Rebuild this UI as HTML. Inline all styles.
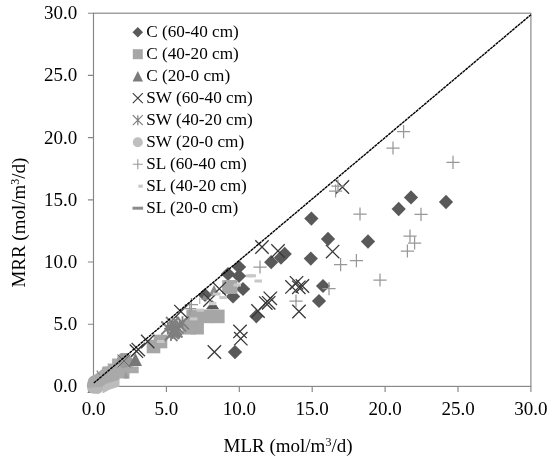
<!DOCTYPE html>
<html lang="en"><head><meta charset="utf-8"><title>MRR vs MLR</title>
<style>html,body{margin:0;padding:0;background:#fff}body{width:550px;height:460px;overflow:hidden}</style>
</head><body>
<svg width="550" height="460" viewBox="0 0 550 460" style="display:block">
<rect width="550" height="460" fill="#fff"/>
<g id="s1"><polygon points="284.7,246.8 291.8,254.0 284.7,261.1 277.6,254.0" fill="#595959"/><polygon points="281.0,250.5 288.1,257.6 281.0,264.8 273.9,257.6" fill="#595959"/><polygon points="271.2,255.0 278.3,262.2 271.2,269.3 264.1,262.2" fill="#595959"/><polygon points="239.0,259.9 246.2,267.0 239.0,274.1 231.8,267.0" fill="#595959"/><polygon points="228.0,266.9 235.2,274.0 228.0,281.1 220.8,274.0" fill="#595959"/><polygon points="239.0,268.9 246.2,276.0 239.0,283.1 231.8,276.0" fill="#595959"/><polygon points="243.0,281.9 250.2,289.0 243.0,296.1 235.8,289.0" fill="#595959"/><polygon points="233.0,289.4 240.2,296.5 233.0,303.6 225.8,296.5" fill="#595959"/><polygon points="256.3,309.2 263.4,316.3 256.3,323.4 249.2,316.3" fill="#595959"/><polygon points="205.0,287.9 212.2,295.0 205.0,302.1 197.8,295.0" fill="#595959"/><polygon points="328.0,231.8 335.1,239.0 328.0,246.2 320.9,239.0" fill="#595959"/><polygon points="368.0,234.3 375.1,241.5 368.0,248.7 360.9,241.5" fill="#595959"/><polygon points="310.8,251.5 317.9,258.6 310.8,265.8 303.7,258.6" fill="#595959"/><polygon points="323.0,278.9 330.1,286.0 323.0,293.1 315.9,286.0" fill="#595959"/><polygon points="319.0,293.9 326.1,301.0 319.0,308.1 311.9,301.0" fill="#595959"/><polygon points="311.4,211.4 318.5,218.6 311.4,225.8 304.2,218.6" fill="#595959"/><polygon points="398.7,201.8 405.8,209.0 398.7,216.2 391.6,209.0" fill="#595959"/><polygon points="411.0,190.2 418.1,197.4 411.0,204.6 403.9,197.4" fill="#595959"/><polygon points="446.0,194.8 453.1,202.0 446.0,209.2 438.9,202.0" fill="#595959"/><polygon points="235.0,345.0 242.2,352.1 235.0,359.2 227.8,352.1" fill="#595959"/></g>
<g id="s2"><rect x="222.2" y="280.2" width="13.6" height="13.6" fill="#a6a6a6"/><rect x="223.8" y="280.2" width="13.6" height="13.6" fill="#a6a6a6"/><rect x="211.0" y="309.6" width="13.6" height="13.6" fill="#a6a6a6"/><rect x="198.7" y="309.6" width="13.6" height="13.6" fill="#a6a6a6"/><rect x="186.4" y="309.6" width="13.6" height="13.6" fill="#a6a6a6"/><rect x="190.3" y="320.9" width="13.6" height="13.6" fill="#a6a6a6"/><rect x="182.6" y="320.9" width="13.6" height="13.6" fill="#a6a6a6"/><rect x="146.7" y="339.7" width="13.6" height="13.6" fill="#a6a6a6"/><rect x="153.7" y="334.7" width="13.6" height="13.6" fill="#a6a6a6"/></g>
<g id="s3"><polygon points="205.0,292.9 208.6,300.1 201.4,300.1" fill="#8c8c8c"/><polygon points="214.0,285.0 218.5,294.0 209.5,294.0" fill="#8c8c8c"/></g>
<g id="s5"><path d="M161.3 321.5L174.3 334.5M161.3 334.5L174.3 321.5M167.8 321.5L167.8 334.5" stroke="#7f7f7f" stroke-width="1.8" fill="none"/><path d="M166.0 326.0L179.0 339.0M166.0 339.0L179.0 326.0M172.5 326.0L172.5 339.0" stroke="#7f7f7f" stroke-width="1.8" fill="none"/><path d="M167.5 324.0L180.5 337.0M167.5 337.0L180.5 324.0M174.0 324.0L174.0 337.0" stroke="#7f7f7f" stroke-width="1.8" fill="none"/><path d="M169.0 322.0L182.0 335.0M169.0 335.0L182.0 322.0M175.5 322.0L175.5 335.0" stroke="#7f7f7f" stroke-width="1.8" fill="none"/><path d="M170.5 320.5L183.5 333.5M170.5 333.5L183.5 320.5M177.0 320.5L177.0 333.5" stroke="#7f7f7f" stroke-width="1.8" fill="none"/><path d="M173.0 318.5L186.0 331.5M173.0 331.5L186.0 318.5M179.5 318.5L179.5 331.5" stroke="#7f7f7f" stroke-width="1.8" fill="none"/><path d="M176.0 316.3L189.0 329.3M176.0 329.3L189.0 316.3M182.5 316.3L182.5 329.3" stroke="#7f7f7f" stroke-width="1.8" fill="none"/><path d="M164.5 328.0L177.5 341.0M164.5 341.0L177.5 328.0M171.0 328.0L171.0 341.0" stroke="#7f7f7f" stroke-width="1.8" fill="none"/><path d="M167.0 325.0L180.0 338.0M167.0 338.0L180.0 325.0M173.5 325.0L173.5 338.0" stroke="#7f7f7f" stroke-width="1.8" fill="none"/><path d="M166.0 317.0L179.0 330.0M166.0 330.0L179.0 317.0M172.5 317.0L172.5 330.0" stroke="#7f7f7f" stroke-width="1.8" fill="none"/><path d="M169.5 324.5L182.5 337.5M169.5 337.5L182.5 324.5M176.0 324.5L176.0 337.5" stroke="#7f7f7f" stroke-width="1.8" fill="none"/></g>
<g id="s4"><path d="M255.3 240.3L268.7 253.7M255.3 253.7L268.7 240.3" stroke="#383838" stroke-width="1.3" fill="none"/><path d="M271.3 244.3L284.7 257.7M271.3 257.7L284.7 244.3" stroke="#383838" stroke-width="1.3" fill="none"/><path d="M263.6 291.6L277.0 305.0M263.6 305.0L277.0 291.6" stroke="#383838" stroke-width="1.3" fill="none"/><path d="M262.0 296.1L275.4 309.5M262.0 309.5L275.4 296.1" stroke="#383838" stroke-width="1.3" fill="none"/><path d="M259.1 296.4L272.5 309.8M259.1 309.8L272.5 296.4" stroke="#383838" stroke-width="1.3" fill="none"/><path d="M289.8 276.1L303.2 289.5M289.8 289.5L303.2 276.1" stroke="#383838" stroke-width="1.3" fill="none"/><path d="M285.3 280.2L298.7 293.6M285.3 293.6L298.7 280.2" stroke="#383838" stroke-width="1.3" fill="none"/><path d="M292.1 280.6L305.5 294.0M292.1 294.0L305.5 280.6" stroke="#383838" stroke-width="1.3" fill="none"/><path d="M295.7 279.3L309.1 292.7M295.7 292.7L309.1 279.3" stroke="#383838" stroke-width="1.3" fill="none"/><path d="M233.3 324.7L246.7 338.1M233.3 338.1L246.7 324.7" stroke="#383838" stroke-width="1.3" fill="none"/><path d="M234.1 332.0L247.5 345.4M234.1 345.4L247.5 332.0" stroke="#383838" stroke-width="1.3" fill="none"/><path d="M292.3 304.8L305.7 318.2M292.3 318.2L305.7 304.8" stroke="#383838" stroke-width="1.3" fill="none"/><path d="M203.3 293.3L216.7 306.7M203.3 306.7L216.7 293.3" stroke="#383838" stroke-width="1.3" fill="none"/><path d="M212.6 282.1L226.0 295.5M212.6 295.5L226.0 282.1" stroke="#383838" stroke-width="1.3" fill="none"/><path d="M325.9 244.9L339.3 258.3M325.9 258.3L339.3 244.9" stroke="#383838" stroke-width="1.3" fill="none"/><path d="M335.7 180.3L349.1 193.7M335.7 193.7L349.1 180.3" stroke="#383838" stroke-width="1.3" fill="none"/><path d="M207.7 345.3L221.1 358.7M207.7 358.7L221.1 345.3" stroke="#383838" stroke-width="1.3" fill="none"/><path d="M251.3 304.3L264.7 317.7M251.3 317.7L264.7 304.3" stroke="#383838" stroke-width="1.3" fill="none"/><path d="M174.2 304.9L187.6 318.3M174.2 318.3L187.6 304.9" stroke="#383838" stroke-width="1.3" fill="none"/><path d="M141.0 334.8L154.4 348.2M141.0 348.2L154.4 334.8" stroke="#383838" stroke-width="1.3" fill="none"/><path d="M129.7 344.5L143.1 357.9M129.7 357.9L143.1 344.5" stroke="#383838" stroke-width="1.3" fill="none"/><path d="M131.6 342.9L145.0 356.3M131.6 356.3L145.0 342.9" stroke="#383838" stroke-width="1.3" fill="none"/></g>
<g id="s6"></g>
<g id="s7"><path d="M253.4 267.0L266.6 267.0M260.0 260.4L260.0 273.6" stroke="#989898" stroke-width="1.25" fill="none"/><path d="M289.4 301.0L302.6 301.0M296.0 294.4L296.0 307.6" stroke="#989898" stroke-width="1.25" fill="none"/><path d="M184.8 304.6L198.0 304.6M191.4 298.0L191.4 311.2" stroke="#989898" stroke-width="1.25" fill="none"/><path d="M183.2 308.6L196.4 308.6M189.8 302.0L189.8 315.2" stroke="#989898" stroke-width="1.25" fill="none"/><path d="M334.0 264.6L347.2 264.6M340.6 258.0L340.6 271.2" stroke="#989898" stroke-width="1.25" fill="none"/><path d="M349.8 260.6L363.0 260.6M356.4 254.0L356.4 267.2" stroke="#989898" stroke-width="1.25" fill="none"/><path d="M373.4 280.0L386.6 280.0M380.0 273.4L380.0 286.6" stroke="#989898" stroke-width="1.25" fill="none"/><path d="M322.4 288.6L335.6 288.6M329.0 282.0L329.0 295.2" stroke="#989898" stroke-width="1.25" fill="none"/><path d="M329.0 191.0L342.2 191.0M335.6 184.4L335.6 197.6" stroke="#989898" stroke-width="1.25" fill="none"/><path d="M331.4 186.0L344.6 186.0M338.0 179.4L338.0 192.6" stroke="#989898" stroke-width="1.25" fill="none"/><path d="M353.4 214.0L366.6 214.0M360.0 207.4L360.0 220.6" stroke="#989898" stroke-width="1.25" fill="none"/><path d="M386.4 148.0L399.6 148.0M393.0 141.4L393.0 154.6" stroke="#989898" stroke-width="1.25" fill="none"/><path d="M397.0 131.6L410.2 131.6M403.6 125.0L403.6 138.2" stroke="#989898" stroke-width="1.25" fill="none"/><path d="M446.4 162.4L459.6 162.4M453.0 155.8L453.0 169.0" stroke="#989898" stroke-width="1.25" fill="none"/><path d="M414.4 214.4L427.6 214.4M421.0 207.8L421.0 221.0" stroke="#989898" stroke-width="1.25" fill="none"/><path d="M403.4 236.0L416.6 236.0M410.0 229.4L410.0 242.6" stroke="#989898" stroke-width="1.25" fill="none"/><path d="M408.0 243.0L421.2 243.0M414.6 236.4L414.6 249.6" stroke="#989898" stroke-width="1.25" fill="none"/><path d="M400.8 251.0L414.0 251.0M407.4 244.4L407.4 257.6" stroke="#989898" stroke-width="1.25" fill="none"/></g>
<g id="s8"><rect x="246.0" y="274.3" width="7.5" height="3" fill="#c8c8c8"/><rect x="248.5" y="274.3" width="7.5" height="3" fill="#c8c8c8"/><rect x="213.0" y="292.5" width="7.5" height="3" fill="#c8c8c8"/><rect x="254.5" y="279.5" width="7.5" height="3" fill="#c8c8c8"/><rect x="233.5" y="283.5" width="7.5" height="3" fill="#c8c8c8"/><rect x="157.0" y="340.0" width="7.5" height="3" fill="#c8c8c8"/><rect x="196.5" y="308.7" width="7.5" height="3" fill="#c8c8c8"/><rect x="190.0" y="317.4" width="7.5" height="3" fill="#c8c8c8"/><rect x="219.3" y="296.1" width="7.5" height="3" fill="#c8c8c8"/></g>
<g id="s9"></g>
<g id="extra"><path d="M199.7 297.5V304" stroke="#b8b8b8" stroke-width="1.3"/><polygon points="212.6,300.3 219.3,309.2 206,309.2" fill="#585858"/><rect x="209" y="301.8" width="7.4" height="3.4" fill="#cfcfcf"/></g>
<rect x="93.5" y="13.2" width="437.4" height="373.2" fill="none" stroke="#868686" stroke-width="1.15"/>
<path d="M87.9 386.4H93.5M93.5 386.4V392.0M87.9 324.2H93.5M166.4 386.4V392.0M87.9 262.0H93.5M239.3 386.4V392.0M87.9 199.8H93.5M312.2 386.4V392.0M87.9 137.6H93.5M385.1 386.4V392.0M87.9 75.4H93.5M458.0 386.4V392.0M87.9 13.2H93.5M530.9 386.4V392.0" stroke="#868686" stroke-width="1.15" fill="none"/>
<g id="over"><polygon points="93.8,380.0 100.3,393.0 87.3,393.0" fill="#7f7f7f"/><circle cx="93.6" cy="387.2" r="6.6" fill="#b6b6b6"/><circle cx="97.2" cy="387.6" r="6.3" fill="#b6b6b6"/><polygon points="102.5,393.6 102.5,380 119.5,379 119.5,386.4 110,389.5" fill="#bcbcbc"/><polygon points="86.8,387 87,384 88.4,379 90.6,376.4 93.6,375.3 95,374.5 101.7,369.4 102.5,366.5 107.7,366.3 107.7,363.4 112.1,363.4 112.1,358.6 117.3,358.6 117.3,355.6 121,353 128.4,353 131,358 131,366.5 138.7,366.5 138.7,373.3 129.5,373.3 129.5,378.5 119.5,378.5 119.5,379.5 106,383.8 102.5,386.6 90,387.8" fill="#a9a9a9"/><polygon points="117.3,358.6 121,353.4 128.4,353.4 133.5,360 133.5,366.5 122,368 117.3,363" fill="#9a9a9a"/><polygon points="135.4,352.9 142.0,366.1 128.8,366.1" fill="#777777"/><polygon points="125.4,371 129.1,378.5 124,378.5" fill="#9a9a9a"/><path d="M117.5 354.5L130.5 367.5M117.5 367.5L130.5 354.5" stroke="#6a6a6a" stroke-width="1.0" fill="none"/><path d="M96.8 370.6L99.6 374.6" stroke="#8c8c8c" stroke-width="1.3"/></g>
<line x1="93.8" y1="383.0" x2="530.9" y2="14.7" stroke="#000" stroke-width="1.4" stroke-dasharray="3 0.6"/>
<g font-family="'Liberation Serif', serif" font-size="19.0" fill="#000">
<text x="77.3" y="392.3" text-anchor="end">0.0</text>
<text x="93.5" y="415.1" text-anchor="middle">0.0</text>
<text x="77.3" y="330.1" text-anchor="end">5.0</text>
<text x="166.4" y="415.1" text-anchor="middle">5.0</text>
<text x="77.3" y="267.9" text-anchor="end">10.0</text>
<text x="239.3" y="415.1" text-anchor="middle">10.0</text>
<text x="77.3" y="205.7" text-anchor="end">15.0</text>
<text x="312.2" y="415.1" text-anchor="middle">15.0</text>
<text x="77.3" y="143.5" text-anchor="end">20.0</text>
<text x="385.1" y="415.1" text-anchor="middle">20.0</text>
<text x="77.3" y="81.3" text-anchor="end">25.0</text>
<text x="458.0" y="415.1" text-anchor="middle">25.0</text>
<text x="77.3" y="19.1" text-anchor="end">30.0</text>
<text x="530.9" y="415.1" text-anchor="middle">30.0</text>
<text x="288.0" y="451.8" text-anchor="middle">MLR (mol/m<tspan font-size="12" dy="-6.2">3</tspan><tspan dy="6.2">/d)</tspan></text>
<text transform="translate(24.8 222.6) rotate(-90)" text-anchor="middle">MRR (mol/m<tspan font-size="12" dy="-6.2">3</tspan><tspan dy="6.2">/d)</tspan></text>
</g>
<g font-family="'Liberation Serif', serif" font-size="17.2" fill="#000">
<polygon points="137.8,26.9 143.1,32.2 137.8,37.5 132.5,32.2" fill="#595959"/>
<text x="146.2" y="36.6">C (60-40 cm)</text>
<rect x="132.8" y="49.2" width="10.0" height="10.0" fill="#a6a6a6"/>
<text x="146.2" y="58.6">C (40-20 cm)</text>
<polygon points="137.8,71.0 143.0,81.4 132.6,81.4" fill="#7a7a7a"/>
<text x="146.2" y="80.6">C (20-0 cm)</text>
<path d="M132.8 93.2L142.8 103.2M132.8 103.2L142.8 93.2" stroke="#383838" stroke-width="1.1" fill="none"/>
<text x="146.2" y="102.6">SW (60-40 cm)</text>
<path d="M132.8 115.2L142.8 125.2M132.8 125.2L142.8 115.2M137.8 115.2L137.8 125.2" stroke="#7f7f7f" stroke-width="1.2" fill="none"/>
<text x="146.2" y="124.6">SW (40-20 cm)</text>
<circle cx="137.8" cy="142.2" r="5" fill="#bfbfbf"/>
<text x="146.2" y="146.6">SW (20-0 cm)</text>
<path d="M132.8 164.2L142.8 164.2M137.8 159.2L137.8 169.2" stroke="#989898" stroke-width="1.1" fill="none"/>
<text x="146.2" y="168.6">SL (60-40 cm)</text>
<rect x="138.3" y="184.7" width="4.5" height="3" fill="#c8c8c8"/>
<text x="146.2" y="190.6">SL (40-20 cm)</text>
<rect x="132.5" y="206.7" width="10.6" height="3" fill="#8c8c8c"/>
<text x="146.2" y="212.6">SL (20-0 cm)</text>
</g>
</svg>
</body></html>
